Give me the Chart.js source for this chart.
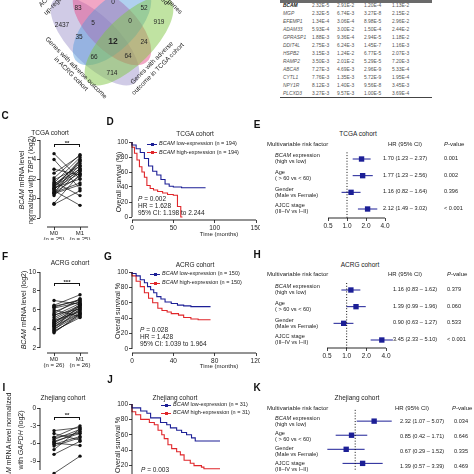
<!DOCTYPE html>
<html>
<head>
<meta charset="utf-8">
<title>BCAM figure</title>
<script src="https://cdn.jsdelivr.net/npm/chart.js@4.4.1/dist/chart.umd.min.js"></script>
<style>
  body { margin: 0; width: 474px; height: 474px; overflow: hidden; background: #fff; position: relative;
         font-family: "Liberation Sans", Arial, sans-serif; color: #222; }
  canvas { position: absolute; }
  .t { position: absolute; white-space: nowrap; line-height: 1; transform-origin: 0 0; }
  .bar { position: absolute; }
</style>
</head>
<body>
<script>
// ---------- data ----------
const vennCounts = [83, 0, 52, 2437, 5, 0, 919, 35, 12, 24, 66, 64, 714];

const genes = ['BCAM', 'MGP', 'EFEMP1', 'ADAM33', 'GPRASP1', 'DDIT4L', 'HSPB2', 'RAMP2', 'ABCA8', 'CYTL1', 'NPY1R', 'PLCXD3'];
const pCol1 = ['2.32E-5', '2.32E-5', '1.34E-4', '5.93E-4', '1.88E-3', '2.75E-3', '3.15E-3', '3.50E-3', '7.27E-3', '7.76E-3', '8.12E-3', '3.27E-3'];
const pCol2 = ['2.91E-2', '6.74E-3', '3.06E-4', '3.00E-2', '9.36E-4', '6.24E-3', '1.24E-2', '2.01E-2', '4.69E-3', '1.35E-3', '1.40E-3', '9.57E-3'];
const pCol3 = ['1.20E-4', '3.27E-8', '8.98E-5', '1.50E-4', '2.94E-5', '1.45E-7', '6.77E-5', '5.29E-5', '2.96E-9', '5.72E-9', '9.56E-8', '1.00E-5'];
const pCol4 = ['1.13E-2', '2.15E-2', '2.96E-2', '2.44E-2', '1.18E-2', '1.16E-3', '2.07E-3', '7.20E-3', '5.33E-4', '1.95E-4', '3.45E-3', '3.69E-4'];

const tcgaM0 = [4.6, 4.0, 3.0, 2.6, 2.1, 1.9, 1.7, 1.6, 1.5, 1.4, 1.3, 1.2, 1.1, 1.0, 1.0, 0.9, 0.8, 0.7, 0.6, 0.6, 0.5, 0.5, 0.3, -0.5, -0.6];
const tcgaM1 = [2.0, 1.0, 2.4, 4.4, 4.5, 3.3, 0.3, 4.2, 3.0, 3.6, 2.8, 3.8, 2.0, 4.0, 2.6, 3.4, -0.7, 3.1, 2.3, 1.6, 3.9, 1.4, 2.9, 2.5, 0.8];
const acrgM0 = [7.0, 6.5, 6.4, 6.3, 6.2, 6.0, 5.8, 5.6, 5.5, 5.4, 5.2, 5.0, 4.9, 4.8, 4.7, 4.6, 4.5, 4.4, 4.3, 4.2, 4.1, 4.0, 3.9, 3.8, 3.7, 3.6];
const acrgM1 = [6.6, 7.6, 7.0, 7.1, 6.8, 5.3, 6.9, 7.2, 6.1, 6.7, 6.5, 6.4, 5.8, 6.2, 6.0, 6.6, 5.9, 6.3, 5.7, 5.6, 6.5, 5.5, 6.1, 5.2, 5.4, 5.6];
const zjM0 = [-3.8, -4.3, -4.9, -5.3, -5.6, -5.8, -5.9, -6.1, -6.4, -7.0, -7.8, -11.0, -5.0];
const zjM1 = [-3.3, -5.4, -3.0, -3.6, -4.3, -3.9, -6.3, -4.8, -5.0, -3.5, -5.6, -8.1, -4.2];

const tcgaLowT = [0, 5, 10, 15, 20, 25, 30, 35, 40, 45, 50, 60, 75, 89];
const tcgaLowS = [100, 96, 91, 86, 78, 68, 61, 56, 50, 44, 41, 40, 39, 39];
const tcgaHighT = [0, 3, 6, 9, 12, 15, 18, 22, 26, 31, 37, 43, 50, 55, 59, 61];
const tcgaHighS = [100, 93, 85, 76, 67, 60, 53, 42, 38, 36, 34, 32, 30, 29, 14, 0];
const acrgLowT = [0, 4, 8, 12, 15, 18, 21, 24, 28, 32, 38, 44, 50, 57, 64, 76];
const acrgLowS = [100, 98, 95, 90, 86, 81, 77, 73, 68, 65, 61, 59, 57, 56, 55, 55];
const acrgHighT = [0, 4, 8, 12, 16, 20, 25, 29, 34, 38, 45, 50, 57, 64, 70, 76];
const acrgHighS = [100, 95, 88, 81, 73, 66, 60, 53, 50, 48, 46, 44, 41, 39, 38, 38];
const zjLowT = [0, 7, 12, 15, 23, 28, 31, 36, 40, 44, 48, 51, 53, 71];
const zjLowS = [100, 95, 91, 88, 82, 76, 73, 69, 66, 63, 60, 56, 52, 52];
const zjHighT = [0, 3, 7, 14, 18, 21, 24, 26, 29, 32, 36, 39, 42, 47, 50, 56, 58, 66, 71];
const zjHighS = [100, 90, 86, 80, 76, 73, 66, 60, 55, 47, 42, 38, 34, 27, 23, 20, 18, 16, 16];

const riskFactors = ['BCAM expression', 'Age', 'Gender', 'AJCC stage'];
const riskContrasts = ['(high vs low)', '( > 60 vs < 60)', '(Male vs Female)', '(III–IV vs I–II)'];
const tcgaHR = [1.70, 1.77, 1.16, 2.12];
const tcgaLo = [1.23, 1.23, 0.82, 1.49];
const tcgaHi = [2.37, 2.56, 1.64, 3.02];
const tcgaP = ['0.001', '0.002', '0.396', '< 0.001'];
const acrgHR = [1.16, 1.39, 0.90, 3.45];
const acrgLo = [0.83, 0.99, 0.63, 2.33];
const acrgHi = [1.62, 1.96, 1.27, 5.10];
const acrgP = ['0.379', '0.060', '0.533', '< 0.001'];
const zjHR = [2.32, 0.85, 0.67, 1.39];
const zjLo = [1.07, 0.42, 0.29, 0.57];
const zjHi = [5.07, 1.71, 1.52, 3.39];
const zjP = ['0.034', '0.646', '0.335', '0.469'];

// ---------- setup ----------
const FONT = '"Liberation Sans", Arial, sans-serif';
Chart.defaults.font.family = FONT;
Chart.defaults.font.size = 6.5;
Chart.defaults.color = '#222';
Chart.defaults.animation = false;
Chart.defaults.responsive = false;
Chart.defaults.devicePixelRatio = 1;
Chart.defaults.events = [];
Chart.defaults.plugins.legend.display = false;
Chart.defaults.plugins.tooltip.enabled = false;

const NAVY = '#1c1f96';
const RED = '#e0262a';

function canvasAt(l, t, w, h) {
    const c = document.createElement('canvas');
    c.width = w; c.height = h;
    c.style.left = l + 'px'; c.style.top = t + 'px';
    document.body.appendChild(c);
    return c;
}

function T(x, y, html, size, opt = {}) {
    const d = document.createElement('div');
    d.className = 't';
    d.innerHTML = html;
    d.style.left = x + 'px';
    d.style.top = y + 'px';
    d.style.fontSize = size + 'px';
    if (opt.bold) d.style.fontWeight = 'bold';
    if (opt.italic) d.style.fontStyle = 'italic';
    if (opt.color) d.style.color = opt.color;
    const shift = opt.align === 'l' ? 0 : opt.align === 'r' ? -100 : -50;
    d.style.transform = `rotate(${opt.rot || 0}deg) translate(${shift}%, -50%)`;
    document.body.appendChild(d);
}

function box(x, y, w, h, css) {
    const d = document.createElement('div');
    d.className = 'bar';
    d.style.cssText += `left:${x}px;top:${y}px;width:${w}px;height:${h}px;` + css;
    document.body.appendChild(d);
}

// prism-like axis lines, drawn from the chart's own scales
const axisLines = {
    id: 'axisLines',
    afterDraw(chart, args, o) {
        const { ctx, chartArea: a, scales: { x, y } } = chart;
        ctx.save();
        ctx.strokeStyle = '#111';
        ctx.lineWidth = 0.9;
        if (o.y) {
            ctx.beginPath();
            ctx.moveTo(a.left, y.getPixelForValue(o.y[0]));
            ctx.lineTo(a.left, y.getPixelForValue(o.y[1]));
            ctx.stroke();
        }
        if (o.x) {
            ctx.beginPath();
            ctx.moveTo(x.getPixelForValue(o.x[0]), a.bottom);
            ctx.lineTo(x.getPixelForValue(o.x[1]), a.bottom);
            ctx.stroke();
        }
        ctx.restore();
    }
};

function axis(type, min, max, ticks, fit, more = {}) {
    return Object.assign({
        type: type,
        bounds: 'data',
        min: min, max: max,
        border: { display: false },
        grid: { drawOnChartArea: false, color: '#111', lineWidth: 0.8, tickLength: 3 },
        ticks: { font: { size: 6.5 }, color: '#222', padding: 1, maxRotation: 0, autoSkip: false },
        afterBuildTicks: s => { s.ticks = ticks.map(v => ({ value: v })); },
        afterFit: fit
    }, more);
}
const fitW = w => s => { s.width = w; s.paddingTop = 0; s.paddingBottom = 0; };
const fitH = h => s => { s.height = h; s.paddingLeft = 0; s.paddingRight = 0; };

// ---------- Venn ----------
const vennPos = [[78, 8], [113, 2], [144, 8], [62, 25], [93, 23], [130, 21], [159, 22], [79, 37], [113, 42], [144, 42], [94, 57], [128, 56], [112, 73]];
const vennShapes = [
    { cx: 95, cy: 41, a: 58, b: 24, rot: 45, fill: 'rgba(150,140,200,0.45)' },
    { cx: 112, cy: 26, a: 50, b: 24, rot: 45, fill: 'rgba(230,80,140,0.5)' },
    { cx: 112, cy: 26, a: 50, b: 24, rot: -45, fill: 'rgba(80,150,220,0.45)' },
    { cx: 129, cy: 41, a: 58, b: 24, rot: -45, fill: 'rgba(130,200,70,0.5)' }
];
const vennPlugin = {
    id: 'venn',
    beforeDatasetsDraw(chart) {
        const { ctx, scales: { x, y } } = chart;
        vennShapes.forEach(e => {
            ctx.save();
            ctx.fillStyle = e.fill;
            ctx.beginPath();
            ctx.ellipse(x.getPixelForValue(e.cx), y.getPixelForValue(e.cy), e.a, e.b, e.rot * Math.PI / 180, 0, Math.PI * 2);
            ctx.fill();
            ctx.restore();
        });
    },
    afterDatasetsDraw(chart) {
        const { ctx } = chart;
        ctx.save();
        ctx.fillStyle = '#262626';
        ctx.textAlign = 'center';
        ctx.textBaseline = 'middle';
        chart.getDatasetMeta(0).data.forEach((p, i) => {
            ctx.font = (i === 8 ? 'bold 8.5px ' : '6.5px ') + FONT;
            ctx.fillText(String(vennCounts[i]), p.x, p.y);
        });
        ctx.restore();
    }
};
new Chart(canvasAt(0, 0, 240, 110), {
    type: 'scatter',
    data: { datasets: [{ data: vennPos.map(p => ({ x: p[0], y: p[1] })), pointRadius: 0 }] },
    options: {
        layout: { padding: 0 },
        scales: {
            x: { display: false, min: 0, max: 240 },
            y: { display: false, min: 0, max: 110, reverse: true }
        }
    },
    plugins: [vennPlugin]
});
T(76, 68, 'Genes with adverse outcome', 6.5, { rot: 45 });
T(71, 73.5, 'in ACRG cohort', 6.5, { rot: 45 });
T(152, 63, 'Genes with adverse', 6.5, { rot: -45 });
T(157.5, 68.5, 'outcome in TCGA cohort', 6.5, { rot: -45 });
T(40, 6, 'ACRG M1/M0', 6.5, { rot: -45, align: 'l' });
T(45, 14, 'up-regulated genes', 6.5, { rot: -45, align: 'l' });
T(167, 4, 'TCGA up-regulated', 6.5, { rot: 45, align: 'r' });
T(181, 13, 'genes', 6.5, { rot: 45, align: 'r' });

// ---------- table ----------
box(280, 0, 152, 3, 'background:#6a6a6a');
box(280, 96.5, 152, 1.5, 'background:#444');
genes.forEach((g, i) => {
    const y = 6 + 8 * i;
    const first = i === 0;
    T(283, y, g, 4.9, { align: 'l', italic: true, bold: first, color: first ? '#111' : '#555' });
    [pCol1, pCol2, pCol3, pCol4].forEach((col, j) => {
        T([312, 337, 364, 392][j], y, col[i], 4.9, { align: 'l', color: '#555' });
    });
});

// ---------- paired plots ----------
function paired(cv, m0, m1, nLabel, yMin, yMax, yTicks, yLine, padTop, xH, showX) {
    const ds = m0.map((v, i) => ({
        data: [{ x: 0, y: v }, { x: 1, y: m1[i] }],
        showLine: true, borderColor: '#111', borderWidth: 0.7,
        pointRadius: 1.7, pointBackgroundColor: '#111', pointBorderWidth: 0, clip: false
    }));
    new Chart(cv, {
        type: 'scatter',
        data: { datasets: ds },
        options: {
            layout: { padding: { left: 0, top: padTop, right: 7, bottom: 0 } },
            plugins: { axisLines: { y: yLine, x: showX ? [-0.27, 1.31] : null } },
            scales: {
                x: axis('linear', -0.54, 1.5, [0, 1], fitH(xH), {
                    display: showX,
                    ticks: { font: { size: 6, lineHeight: 1.05 }, color: '#222', padding: 0, maxRotation: 0, autoSkip: false,
                             callback: v => [v === 0 ? 'M0' : 'M1', nLabel] }
                }),
                y: axis('linear', yMin, yMax, yTicks, fitW(40))
            }
        },
        plugins: [axisLines]
    });
}
paired(canvasAt(0, 128, 100, 112), tcgaM0, tcgaM1, '(n = 25)', -2.92, 6, [-2, 0, 2, 4, 6], [-2, 6], 12, 13, true);
paired(canvasAt(0, 262, 100, 112), acrgM0, acrgM1, '(n = 26)', 1.47, 10, [2, 4, 6, 8, 10], [2, 10], 10, 21, true);
paired(canvasAt(0, 400, 100, 74), zjM0, zjM1, '(n = 13)', -10.43, 0, [0, -3, -6, -9], [-10.43, 0], 8, 0, false);

function bracket(x1, x2, y, stars) {
    box(x1, y, x2 - x1, 3, 'border:0.8px solid #111;border-bottom:none;box-sizing:border-box');
    T((x1 + x2) / 2, y - 1.5, stars, 6, { bold: true });
}
T(50, 133, 'TCGA cohort', 6.5);
bracket(54, 80, 144, '**');
T(21, 180, '<i>BCAM</i> mRNA level', 7, { rot: -90 });
T(29.5, 180, 'normalized with <i>TBP1</i> (log2)', 7, { rot: -90 });
T(70, 263, 'ACRG cohort', 6.5);
bracket(54, 80, 283, '***');
T(23, 310, '<i>BCAM</i> mRNA level (log2)', 7, { rot: -90 });
T(63, 398, 'Zhejiang cohort', 6.5);
bracket(54, 80, 416.5, '**');
T(8, 440, '<i>BCAM</i> mRNA level normalized', 7, { rot: -90 });
T(19.5, 440, 'with <i>GAPDH</i> (log2)', 7, { rot: -90 });

// ---------- Kaplan-Meier ----------
function km(cv, low, high, xMax, xTicks, yMin, yTicks, padTop, xH, showX) {
    const line = (t, s, c) => ({
        data: t.map((v, i) => ({ x: v, y: s[i] })),
        showLine: true, stepped: 'after', borderColor: c, borderWidth: 1.1, pointRadius: 0, clip: false
    });
    new Chart(cv, {
        type: 'scatter',
        data: { datasets: [line(low[0], low[1], NAVY), line(high[0], high[1], RED)] },
        options: {
            layout: { padding: { left: 0, top: padTop, right: 4, bottom: 0 } },
            plugins: { axisLines: { y: [Math.max(0, yMin), 100], x: showX ? [0, xMax] : null } },
            scales: {
                x: axis('linear', 0, xMax, xTicks, fitH(xH), { display: showX }),
                y: axis('linear', yMin, 100, yTicks, fitW(22))
            }
        },
        plugins: [axisLines]
    });
}
function legendKey(x, y, color, html) {
    box(x, y - 0.5, 10, 1, 'background:' + color);
    box(x + 3.5, y - 1.5, 3, 3, 'background:' + color);
    T(x + 12, y, html, 5.5, { align: 'l' });
}
km(canvasAt(110, 128, 150, 112), [tcgaLowT, tcgaLowS], [tcgaHighT, tcgaHighS], 150, [0, 50, 100, 150], -4, [0, 20, 40, 60, 80, 100], 14, 20, true);
T(195, 134, 'TCGA cohort', 6.5);
legendKey(147, 144, NAVY, '<i>BCAM</i> low-expression (n = 194)');
legendKey(147, 152.5, RED, '<i>BCAM</i> high-expression (n = 194)');
T(138, 199, '<i>P</i> = 0.002', 6.5, { align: 'l' });
T(138, 206, 'HR = 1.628', 6.5, { align: 'l' });
T(138, 213, '95% CI: 1.198 to 2.244', 6.5, { align: 'l' });
T(118, 182, 'Overall survival (%)', 7, { rot: -90 });
T(219, 234, 'Time (months)', 6);

km(canvasAt(110, 258, 150, 112), [acrgLowT, acrgLowS], [acrgHighT, acrgHighS], 120, [0, 40, 80, 120], -5.2, [0, 20, 40, 60, 80, 100], 14, 17, true);
T(195, 265, 'ACRG cohort', 6.5);
legendKey(150, 274, NAVY, '<i>BCAM</i> low-expression (n = 150)');
legendKey(150, 283, RED, '<i>BCAM</i> high-expression (n = 150)');
T(140, 330, '<i>P</i> = 0.028', 6.5, { align: 'l' });
T(140, 337, 'HR = 1.428', 6.5, { align: 'l' });
T(140, 343.5, '95% CI: 1.039 to 1.964', 6.5, { align: 'l' });
T(117, 311, 'Overall survival %', 7, { rot: -90 });
T(219, 366, 'Time (months)', 6);

km(canvasAt(110, 390, 150, 84), [zjLowT, zjLowS], [zjHighT, zjHighS], 100, [0, 50, 100], 9.1, [20, 40, 60, 80, 100], 14, 0, false);
T(175, 398, 'Zhejiang cohort', 6.5);
legendKey(161, 405, NAVY, '<i>BCAM</i> low-expression (n = 31)');
legendKey(161, 413, RED, '<i>BCAM</i> high-expression (n = 31)');
T(141, 470, '<i>P</i> = 0.003', 6.5, { align: 'l' });
T(117, 445, 'Overall survival %', 7, { rot: -90 });

// ---------- forest plots ----------
function forest(cv, hr, lo, hi, o) {
    const ds = [{
        data: [{ x: 1, y: o.refFrom }, { x: 1, y: o.yMax }],
        showLine: true, borderColor: '#111', borderWidth: 1, borderDash: [1, 1.8], pointRadius: 0, clip: false
    }];
    hr.forEach((v, i) => ds.push({
        data: [{ x: lo[i], y: i + 1 }, { x: hi[i], y: i + 1 }],
        showLine: true, borderColor: NAVY, borderWidth: 1, pointRadius: 0, clip: false
    }));
    ds.push({
        data: hr.map((v, i) => ({ x: v, y: i + 1 })),
        pointStyle: 'rect', pointRadius: 3.8, backgroundColor: NAVY, borderColor: NAVY, borderWidth: 0, clip: false
    });
    new Chart(cv, {
        type: 'scatter',
        data: { datasets: ds },
        options: {
            layout: { padding: { left: o.padL, top: 8, right: o.padR, bottom: 0 } },
            plugins: { axisLines: { x: o.showX ? [o.xMin, o.xMax] : null } },
            scales: {
                x: axis('logarithmic', o.xMin, o.xMax, [0.5, 1, 2, 4], fitH(o.xH), {
                    display: o.showX,
                    ticks: { font: { size: 6.5 }, color: '#222', padding: 1, maxRotation: 0, autoSkip: false, callback: v => v.toFixed(1) }
                }),
                y: { type: 'linear', display: false, reverse: true, min: o.yMin, max: o.yMax }
            }
        },
        plugins: [axisLines]
    });
}
function forestText(rows, hr, lo, hi, p, xHR, xP, yHead, xHeadHR, xHeadP) {
    T(267, yHead, 'Multivariable risk factor', 6, { align: 'l' });
    T(xHeadHR, yHead, 'HR (95% CI)', 6);
    T(xHeadP, yHead, '<i>P</i>-value', 6, { align: 'l' });
    rows.forEach((y, i) => {
        const name = riskFactors[i].replace('BCAM', '<i>BCAM</i>');
        T(275, y - 2.8, name, 5.6, { align: 'l' });
        T(275, y + 3.4, riskContrasts[i].replace('<', '&lt;').replace('>', '&gt;'), 5.6, { align: 'l' });
        T(xHR, y, `${hr[i].toFixed(2)} (${lo[i].toFixed(2)} – ${hi[i].toFixed(2)})`, 5.6, { align: 'l' });
        T(xP, y, p[i], 5.6, { align: 'l' });
    });
}
forest(canvasAt(320, 140, 90, 100), tcgaHR, tcgaLo, tcgaHi, { padL: 8, padR: 25, xMin: 0.5, xMax: 4, yMin: 0.34, yMax: 4.54, refFrom: 0.6, xH: 22, showX: true });
T(358, 134, 'TCGA cohort', 6.5);
forestText([159, 175.7, 192.3, 209], tcgaHR, tcgaLo, tcgaHi, tcgaP, 383, 444, 144, 405, 444);

forest(canvasAt(320, 270, 90, 100), acrgHR, acrgLo, acrgHi, { padL: 7, padR: 24, xMin: 0.5, xMax: 4, yMin: 0.28, yMax: 4.48, refFrom: 0.58, xH: 22, showX: true });
T(360, 265, 'ACRG cohort', 6.5);
forestText([290, 306.7, 323.3, 340], acrgHR, acrgLo, acrgHi, acrgP, 393, 447, 274, 405, 447);

forest(canvasAt(320, 400, 90, 74), zjHR, zjLo, zjHi, { padL: 2, padR: 8, xMin: 0.25, xMax: 8, yMin: 0.067, yMax: 4.47, refFrom: 0.2, xH: 0, showX: false });
T(357, 398, 'Zhejiang cohort', 6.5);
forestText([422, 437, 452, 467], zjHR, zjLo, zjHi, zjP, 400, 454, 407.5, 412, 452);

// ---------- panel letters ----------
[['C', 5, 116], ['D', 110, 122], ['E', 257, 125], ['F', 5, 257], ['G', 108, 257], ['H', 257, 255], ['I', 4, 388], ['J', 110, 380], ['K', 257, 388]]
    .forEach(([s, x, y]) => T(x, y, s, 10, { bold: true, color: '#111' }));
</script>
</body>
</html>
